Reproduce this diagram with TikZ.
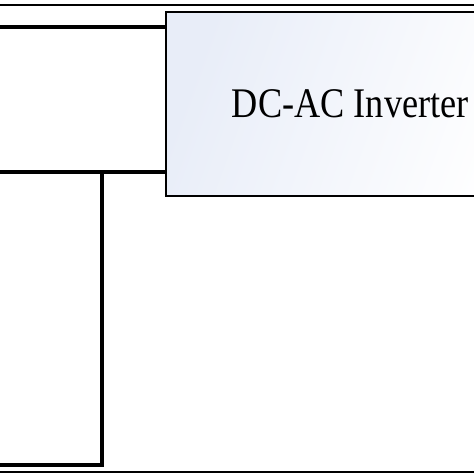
\documentclass[tikz,border=0pt]{standalone}
\usepackage{fontspec}
\setmainfont{Liberation Serif}
\usepackage{xcolor}
\usetikzlibrary{positioning}
\definecolor{invblue}{HTML}{E8EDF8}

\begin{document}
\begin{tikzpicture}[
    x=0.02cm, y=-0.02cm,
    invbox/.style={rectangle, draw=black, line width=0.9pt, left color=invblue, right color=white, shading angle=70, minimum width=7.38cm, minimum height=3.68cm, inner sep=0pt, font=\fontsize{24}{28}\selectfont},
    wire/.style={draw=black, line width=2.1pt},
    rail/.style={draw=black, line width=1.6pt}
]
\useasboundingbox (0,0) rectangle (474,474);
\clip (0,0) rectangle (474,474);

\node[invbox, anchor=west] (inv) at (165,104) {\scalebox{0.86}[1]{DC-AC Inverter}};

\coordinate (railTL) at (0,5);
\coordinate (railTR) at (474,5);
\coordinate (railBL) at (0,472);
\coordinate (railBR) at (474,472);
\draw[rail] (railTL) -- (railTR);
\draw[rail] (railBL) -- (railBR);

\coordinate (pos) at (0,27);
\coordinate (neg) at (0,172);
\coordinate (tap) at (102,172);
\coordinate (ret) at (0,465);

\draw[wire] (pos) -- (pos -| inv.west);
\draw[wire] (neg) -- (neg -| inv.west);
\draw[wire] (tap) -- (tap |- ret) -- (ret);

\end{tikzpicture}
\end{document}
